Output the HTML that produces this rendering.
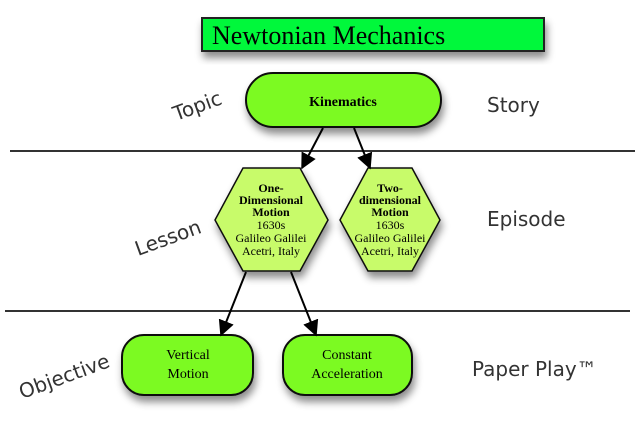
<!DOCTYPE html>
<html><head><style>
body{margin:0;background:#fff;width:640px;height:426px;overflow:hidden}
</style></head><body>
<svg width="640" height="426" xmlns="http://www.w3.org/2000/svg">
<defs>
<filter id="sh" x="-20%" y="-20%" width="150%" height="160%"><feDropShadow dx="2" dy="6" stdDeviation="4" flood-color="#000" flood-opacity="0.45"/></filter>
<marker id="ah2" viewBox="0 0 10 10" markerWidth="16" markerHeight="16" refX="9" refY="5" orient="auto" markerUnits="userSpaceOnUse"><path d="M0,0 L10,5 L0,10 Z" fill="#000"/></marker>
</defs>
<line x1="10" y1="151" x2="635" y2="151" stroke="#333" stroke-width="2"/>
<line x1="5" y1="311" x2="630" y2="311" stroke="#333" stroke-width="2"/>
<rect x="202" y="18" width="342" height="33" fill="#00f83a" stroke="#222" stroke-width="2" filter="url(#sh)"/>
<text x="212" y="44" font-family="Liberation Serif, serif" font-size="26">Newtonian Mechanics</text>
<rect x="246" y="73" width="195" height="54" rx="27" fill="#7cfa22" stroke="#111" stroke-width="2" filter="url(#sh)"/>
<text x="343" y="106" text-anchor="middle" font-family="Liberation Serif, serif" font-weight="bold" font-size="14">Kinematics</text>
<polygon points="243,168 300,168 328,220 300,271 243,271 215,220" fill="#c8fb6a" stroke="#111" stroke-width="1.5" filter="url(#sh)"/>
<polygon points="368,168 412,168 440,220 412,271 368,271 340,220" fill="#c8fb6a" stroke="#111" stroke-width="1.5" filter="url(#sh)"/>
<g font-family="Liberation Serif, serif" font-size="12" text-anchor="middle">
<text x="271" y="192" font-weight="bold">One-</text>
<text x="271" y="204" font-weight="bold">Dimensional</text>
<text x="271" y="216" font-weight="bold">Motion</text>
<text x="271" y="229">1630s</text>
<text x="271" y="242">Galileo Galilei</text>
<text x="271" y="255">Acetri, Italy</text>
<text x="390" y="192" font-weight="bold">Two-</text>
<text x="390" y="204" font-weight="bold">dimensional</text>
<text x="390" y="216" font-weight="bold">Motion</text>
<text x="390" y="229">1630s</text>
<text x="390" y="242">Galileo Galilei</text>
<text x="390" y="255">Acetri, Italy</text>
</g>
<rect x="122" y="335" width="131" height="60" rx="22" fill="#7cfa22" stroke="#111" stroke-width="2" filter="url(#sh)"/>
<rect x="283" y="335" width="129" height="60" rx="22" fill="#7cfa22" stroke="#111" stroke-width="2" filter="url(#sh)"/>
<g font-family="Liberation Serif, serif" font-size="14" text-anchor="middle">
<text x="188" y="359">Vertical</text><text x="188" y="378">Motion</text>
<text x="347" y="359">Constant</text><text x="347" y="378">Acceleration</text>
</g>
<g stroke="#000" stroke-width="2">
<line x1="323" y1="128" x2="302" y2="168" marker-end="url(#ah2)"/>
<line x1="354" y1="128" x2="370" y2="168" marker-end="url(#ah2)"/>
<line x1="246" y1="272" x2="221" y2="335" marker-end="url(#ah2)"/>
<line x1="291" y1="272" x2="316" y2="335" marker-end="url(#ah2)"/>
</g>
<g font-family="DejaVu Sans, sans-serif" font-size="20" fill="#333">
<text x="0" y="0" transform="translate(176,121) rotate(-20)">Topic</text>
<text x="487" y="112">Story</text>
<text x="0" y="0" transform="translate(138,256) rotate(-20)">Lesson</text>
<text x="487" y="226">Episode</text>
<text x="0" y="0" transform="translate(22,399) rotate(-20)">Objective</text>
<text x="472" y="376">Paper Play™</text>
</g>
</svg>
</body></html>
